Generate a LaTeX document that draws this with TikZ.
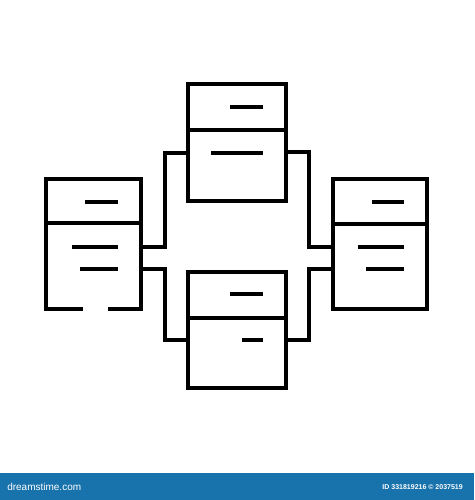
\documentclass[tikz,border=0pt]{standalone}
\usepackage{fontspec}
\newfontfamily\stockfont{Liberation Sans}
\definecolor{stockblue}{RGB}{24,114,172}

\begin{document}
\begin{tikzpicture}[x=1pt, y=-1pt, line width=4.5pt,
    box/.style={draw, rectangle, inner sep=0pt, outer sep=0pt},
    link/.style={line join=miter},
    stocktext/.style={white, inner sep=0pt}]

    \useasboundingbox (0,0) rectangle (474,500);

    % Left cabinet, bottom edge left open
    \node[box, draw=none, minimum width=95pt, minimum height=130pt] (lbox) at (93.5,244) {};
    \draw ([xshift=37pt]lbox.south west) -| (lbox.north west) -| (lbox.south east) -- ++(-33,0);
    \draw (lbox.west |- 0,223) -- (lbox.east |- 0,223);
    \draw (85,202) -- (118,202);
    \draw (72,247) -- (118,247);
    \draw (80,269) -- (118,269);

    % Top cabinet
    \node[box, minimum width=98pt, minimum height=117pt] (tbox) at (237,142.5) {};
    \draw (tbox.west |- 0,130) -- (tbox.east |- 0,130);
    \draw (230,107) -- (263,107);
    \draw (211,153) -- (263,153);

    % Right cabinet
    \node[box, minimum width=94pt, minimum height=130pt] (rbox) at (380,244) {};
    \draw (rbox.west |- 0,224) -- (rbox.east |- 0,224);
    \draw (372,202) -- (404,202);
    \draw (358,247) -- (404,247);
    \draw (366,269) -- (404,269);

    % Bottom cabinet
    \node[box, minimum width=98pt, minimum height=116pt] (bbox) at (237,330) {};
    \draw (bbox.west |- 0,318) -- (bbox.east |- 0,318);
    \draw (230,294) -- (263,294);
    \draw (242,340) -- (263,340);

    % Links between cabinets
    \draw[link] (lbox.east |- 0,247) -- ++(24,0) |- (tbox.west |- 0,153);
    \draw[link] (lbox.east |- 0,269) -- ++(24,0) |- (bbox.west |- 0,340);
    \draw[link] (tbox.east |- 0,152) -- ++(23,0) |- (rbox.west |- 0,247);
    \draw[link] (bbox.east |- 0,340) -- ++(23,0) |- (rbox.west |- 0,269);

    % Stock banner
    \fill[stockblue] (0,473) rectangle (474,500);
    \node[stocktext, anchor=west, font=\stockfont\fontsize{10}{12}\selectfont] (site) at (5,487) {dreamstime.com};
    \node[stocktext, anchor=east, font=\stockfont\bfseries\fontsize{7}{8}\selectfont] (stockid) at (465,487) {ID 331819216 \textcopyright{} 2037519};
\end{tikzpicture}
\end{document}
